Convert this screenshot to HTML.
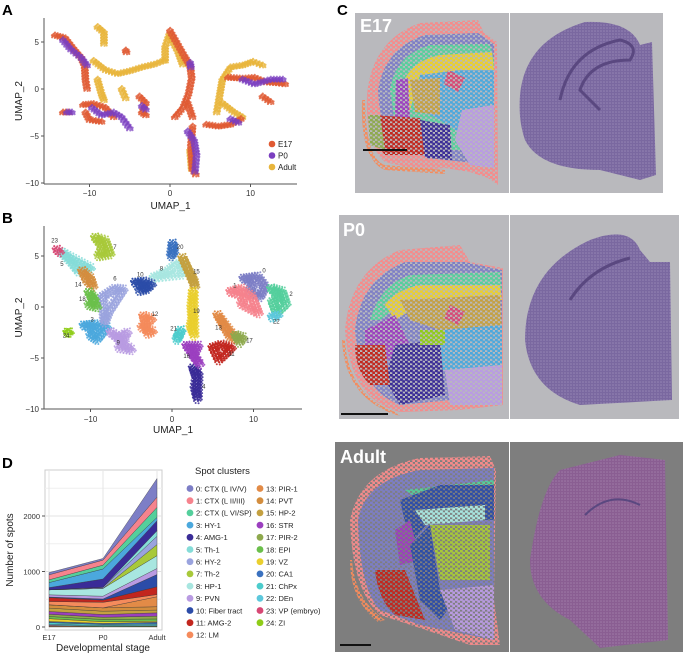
<!DOCTYPE html>
<html><head><meta charset="utf-8">
<style>
html,body{margin:0;padding:0;background:#fff;}
svg{display:block;font-family:"Liberation Sans",Arial,sans-serif;}
</style></head>
<body>
<svg id="fig" width="685" height="655" viewBox="0 0 685 655" xmlns="http://www.w3.org/2000/svg">
<defs>
  <pattern id="dotpat" width="5" height="4.4" patternUnits="userSpaceOnUse">
    <circle cx="1.3" cy="1.1" r="1.6" fill="#fff"/>
    <circle cx="3.8" cy="3.3" r="1.6" fill="#fff"/>
  </pattern>
  <mask id="dotmask" maskUnits="userSpaceOnUse" x="0" y="0" width="685" height="655">
    <rect x="0" y="0" width="685" height="655" fill="url(#dotpat)"/>
  </mask>
  <pattern id="tissue" width="3" height="3" patternUnits="userSpaceOnUse">
    <rect width="3" height="3" fill="#7a68a0"/>
    <circle cx="1" cy="1" r="0.8" fill="#9586b4"/>
  </pattern>
  <pattern id="tissueA" width="3" height="3" patternUnits="userSpaceOnUse">
    <rect width="3" height="3" fill="#8a5e92"/>
    <circle cx="1" cy="1" r="0.8" fill="#a07aa8"/>
  </pattern>
</defs>

<text x="2" y="15" font-size="15" font-weight="bold">A</text>
<text x="2" y="223" font-size="15" font-weight="bold">B</text>
<text x="337" y="15" font-size="15" font-weight="bold">C</text>
<text x="2" y="468" font-size="15" font-weight="bold">D</text>

<g id="panelA"></g>
<g id="panelB"></g>
<g id="panelD"></g>

<g id="panelC">
  <rect x="355" y="13" width="154" height="180" fill="#b9b9bd"/>
  <rect x="510" y="13" width="153" height="180" fill="#b9b9bd"/>
  <g mask="url(#dotmask)">
    <path d="M367,95 Q372,40 420,23 L478,20 L484,33 L497,42 L498,185 L488,178 L470,172 L445,168 L420,170 L385,162 Q365,145 367,95Z" fill="#f58b8b"/>
    <path d="M378,90 Q385,48 425,35 L478,33 L494,44 L494,165 L445,160 L395,150 Q380,130 378,90Z" fill="#7d7ec6"/>
    <path d="M390,90 Q395,55 430,45 L490,44 L494,60 L494,150 L420,150 L396,130Z" fill="#54cf9c"/>
    <path d="M400,95 Q405,62 440,55 L492,52 L494,70 L420,75 L410,110 L400,110Z" fill="#eacf2e"/>
    <path d="M420,75 L460,70 L494,70 L494,135 L470,140 L440,120 L420,110Z" fill="#4ba8dd"/>
    <path d="M410,80 L440,78 L440,115 L415,112Z" fill="#c4a040"/>
    <path d="M448,70 L465,78 L458,92 L444,84Z" fill="#d74874"/>
    <path d="M396,80 L408,78 L410,120 L395,118Z" fill="#9b3fbf"/>
    <path d="M462,110 L494,105 L494,168 L470,165 L455,140Z" fill="#b99be2"/>
    <path d="M372,115 L420,118 L428,155 L385,155 Q372,140 372,115Z" fill="#c2261e"/>
    <path d="M420,120 L450,125 L452,160 L425,158Z" fill="#3a2c97"/>
    <path d="M368,115 L380,115 L385,150 L370,145Z" fill="#8ea94d"/>
    <path d="M365,100 Q366,160 385,165 L445,170 L445,174 L385,170 Q360,160 362,100Z" fill="#f58b5c"/>
  </g>
  <path d="M520,95 Q525,40 585,22 Q630,20 640,45 L652,42 L656,175 L640,180 L600,170 Q540,170 525,140 Q518,120 520,95Z" fill="url(#tissue)"/>
  <path d="M560,100 Q570,50 620,40 Q640,45 630,60 Q590,60 580,90 L600,110" fill="none" stroke="#5a4880" stroke-width="3"/>
  <line x1="363" y1="150" x2="407" y2="150" stroke="#111" stroke-width="2"/>
  <text x="360" y="32" font-size="18" font-weight="bold" fill="#fff">E17</text>

  <rect x="339" y="215" width="170" height="204" fill="#b9b9bd"/>
  <rect x="510" y="215" width="169" height="204" fill="#b9b9bd"/>
  <g mask="url(#dotmask)">
    <path d="M345,330 Q350,270 400,250 L460,245 L470,262 L503,268 L503,405 L460,410 L400,412 Q350,400 345,330Z" fill="#f58b8b"/>
    <path d="M355,330 Q360,280 405,262 L465,262 L502,270 L502,395 L400,405 Q360,390 355,330Z" fill="#7d7ec6"/>
    <path d="M370,320 Q380,285 410,275 L500,272 L502,290 L420,290 L380,320Z" fill="#54cf9c"/>
    <path d="M385,305 Q395,290 420,285 L500,285 L502,300 L420,305 L395,320Z" fill="#eacf2e"/>
    <path d="M400,300 L500,295 L502,330 L440,330 L410,320Z" fill="#c4a040"/>
    <path d="M440,330 L502,325 L502,375 L440,370Z" fill="#4ba8dd"/>
    <path d="M450,305 L465,312 L458,325 L444,318Z" fill="#d74874"/>
    <path d="M365,330 L395,315 L410,345 L390,360 L365,350Z" fill="#9b3fbf"/>
    <path d="M395,345 L440,340 L445,395 L400,405 L385,380Z" fill="#3a2c97"/>
    <path d="M355,345 L385,345 L390,385 L370,385 Q355,370 355,345Z" fill="#c2261e"/>
    <path d="M445,370 L502,365 L502,405 L450,405Z" fill="#b99be2"/>
    <path d="M420,330 L445,330 L445,345 L420,345Z" fill="#8fcc18"/>
    <path d="M345,340 Q348,395 395,412 L400,416 Q345,400 342,340Z" fill="#f58b5c"/>
  </g>
  <path d="M525,340 Q525,270 590,240 Q630,225 640,250 L650,262 L670,262 L672,400 L580,405 Q530,390 525,340Z" fill="url(#tissue)"/>
  <path d="M570,300 Q590,268 630,258" fill="none" stroke="#5a4880" stroke-width="3"/>
  <line x1="341" y1="414" x2="388" y2="414" stroke="#111" stroke-width="2"/>
  <text x="343" y="236" font-size="18" font-weight="bold" fill="#fff">P0</text>

  <rect x="335" y="442" width="174" height="210" fill="#7e7e7e"/>
  <rect x="510" y="442" width="173" height="210" fill="#7e7e7e"/>
  <g mask="url(#dotmask)">
    <path d="M350,520 Q360,470 420,458 L490,456 L496,470 L494,600 L500,645 L470,645 L420,628 L380,615 Q352,590 350,520Z" fill="#f58b8b"/>
    <path d="M358,520 Q365,480 420,470 L494,468 L494,640 L420,625 L380,610 Q360,590 358,520Z" fill="#7d7ec6"/>
    <path d="M405,490 L494,480 L494,500 L420,500Z" fill="#54cf9c"/>
    <path d="M400,500 L440,485 L494,485 L494,520 L430,520 L410,545Z" fill="#2c4ca8"/>
    <path d="M415,510 L485,505 L485,520 L425,525Z" fill="#a8e6e0"/>
    <path d="M430,525 L490,525 L490,580 L440,580Z" fill="#a8c93a"/>
    <path d="M395,530 L410,520 L420,560 L400,565Z" fill="#9b3fbf"/>
    <path d="M410,545 L430,525 L440,590 L455,600 L440,620 L420,600Z" fill="#2c4ca8"/>
    <path d="M440,590 L494,585 L494,640 L455,630Z" fill="#b99be2"/>
    <path d="M375,570 L405,570 L425,620 L395,615 Q378,600 375,570Z" fill="#c2261e"/>
    <path d="M352,560 Q355,600 385,620 L378,622 Q350,600 350,560Z" fill="#f58b5c"/>
  </g>
  <path d="M530,560 Q540,490 560,470 L620,455 L665,460 L668,640 L600,648 L570,620 Q530,600 530,560Z" fill="url(#tissueA)"/>
  <path d="M585,515 Q610,490 640,505" fill="none" stroke="#5a4880" stroke-width="2"/>
  <line x1="340" y1="645" x2="371" y2="645" stroke="#111" stroke-width="2"/>
  <text x="340" y="463" font-size="18" font-weight="bold" fill="#fff">Adult</text>
</g>
</svg>

<script>
// ---------- DATA ----------
const clusterColors = ["#7d7ec6","#f6838d","#54cf9c","#4ba8dd","#3a2c97","#85dcd8","#9aa3de","#a8c93a","#a8e6e0","#b99be2","#2c4ca8","#c2261e","#f58b5c","#e28b47","#d38d3e","#c4a040","#9b3fbf","#8ea94d","#6bbf4b","#eacf2e","#3a71bf","#4ccccc","#5dc8dc","#d74874","#8fcc18"];
const clusterNames = ["0: CTX (L IV/V)","1: CTX (L II/III)","2: CTX (L VI/SP)","3: HY-1","4: AMG-1","5: Th-1","6: HY-2","7: Th-2","8: HP-1","9: PVN","10: Fiber tract","11: AMG-2","12: LM","13: PIR-1","14: PVT","15: HP-2","16: STR","17: PIR-2","18: EPI","19: VZ","20: CA1","21: ChPx","22: DEn","23: VP (embryo)","24: ZI"];
const stages = ["E17","P0","Adult"];
const countsE17   = [40,90,50,90,40,0,0,0,90,40,10,70,60,0,60,60,50,40,40,50,20,30,20,20,10];
const countsP0    = [30,90,70,180,150,0,20,0,140,50,20,40,100,0,60,60,50,40,40,30,20,20,15,0,10];
const countsAdult = [335,185,180,60,180,100,150,200,230,110,220,140,40,180,60,50,60,50,40,20,30,20,20,5,10];
const yTicksD = [0,1000,2000];

const umapB = {
  0:[[8.8,2.8],[10.5,3],[11.4,2],[10.8,1],[9.5,1.5],[10,2.2]],
  1:[[7.2,1.5],[8.5,1.8],[9.8,1],[10.6,-0.6],[8.5,0.3],[9,1]],
  2:[[12.2,1.8],[13.5,1.5],[14,0.3],[12.8,-0.6],[12.3,0.5],[13.2,0.8]],
  3:[[-10.8,-1.8],[-9.5,-1.7],[-8,-2],[-9.2,-3.2],[-10,-2.8],[-9.3,-2.3]],
  4:[[2.6,-6],[3,-7],[2.8,-8],[3.1,-9],[3.2,-6.5]],
  5:[[-13.5,5.3],[-12.5,4.5],[-11.5,3.5],[-10,3.8]],
  6:[[-8.5,1],[-7,1.8],[-6,1.7],[-7.8,-0.5],[-8.3,-1.5]],
  7:[[-9.4,6.8],[-8.2,6.5],[-7.6,5.2],[-9,5],[-8.5,5.8]],
  8:[[-2.2,2.9],[-0.5,3.5],[0.5,4.2],[1.3,4.3],[1.2,3.2]],
  9:[[-7.5,-2.5],[-6.5,-3],[-5.5,-2.5],[-6.5,-4],[-5,-4.2]],
  10:[[-4.5,2.4],[-3.5,2.5],[-2.5,2.2],[-4,1.6],[-3,1.8]],
  11:[[5,-4],[6,-3.7],[7.3,-4],[6.3,-4.8],[5.7,-5.2]],
  12:[[-3.5,-0.9],[-2.5,-1.2],[-3.7,-2],[-2.4,-2.4],[-3,-2.6]],
  13:[[5.6,-0.8],[6.3,-1.8],[7,-2.8],[7.8,-3.1]],
  14:[[-11,3.5],[-10.5,2.6],[-9.7,2],[-10,2.8]],
  15:[[1.3,4.8],[2,3.6],[2.6,2.8],[2.8,2]],
  16:[[1.8,-3.8],[3.2,-3.8],[2.6,-4.8],[3.4,-5.6]],
  17:[[7.8,-2.8],[8.7,-3],[8.3,-3.5]],
  18:[[-10.2,1.4],[-9.5,0.8],[-10.2,0.2],[-9.2,0]],
  19:[[2.6,1.5],[2.4,0],[2.5,-1.2],[2.3,-2],[2.7,-2.8]],
  20:[[0.1,6.2],[0.2,5.4],[-0.1,5]],
  21:[[1.1,-2.3],[0.8,-2.8],[0.6,-3.2]],
  22:[[12.3,-1],[13,-0.8]],
  23:[[-14.1,5.6],[-13.8,5.4]],
  24:[[-12.8,-2.5],[-12.6,-2.5]]
};
const labelB = {0:[11.3,3.4],1:[7.7,1.9],2:[14.6,1.1],3:[-9.8,-1.4],4:[3.9,-8],5:[-13.5,4],6:[-7,2.6],7:[-7,5.7],8:[-1.3,3.6],9:[-6.6,-3.7],10:[-3.9,3],11:[7.3,-4.8],12:[-2.1,-0.9],13:[5.7,-2.2],14:[-11.5,2],15:[3,3.3],16:[1.8,-5],17:[9.5,-3.5],18:[-11,0.6],19:[3,-0.6],20:[1,5.7],21:[0.2,-2.3],22:[12.8,-1.6],23:[-14.4,6.3],24:[-13,-3]};

// Panel A: each stage is a list of separate strands (polylines in UMAP coords)
const umapAdult = [
  [[-9,6.6],[-8.2,6],[-8.2,4.8]],
  [[-9.5,3],[-8,2],[-6.5,1.6],[-5,1.9],[-3.5,2.3],[-2,2.6],[-0.8,3]],
  [[-0.6,3],[-0.6,4.5],[-0.1,5.8],[1,4],[1.6,2.6]],
  [[5.8,-2.5],[6.2,-0.5],[6.5,1],[7.5,2.3],[9,2.5],[10.3,2.9],[11.5,2.5]],
  [[6.5,-1.5],[8,-2.5],[9,-3]],
  [[-9,1],[-8.5,-0.5],[-8.2,-1.2]],
  [[-6,0],[-5.5,-1]],
  [[2.5,-6.5],[2.7,-8.5]]
];
const umapE17 = [
  [[-14.3,5.7],[-13,5.4],[-12,4.3],[-11,3.3],[-10.6,2.5],[-10.5,1],[-10.3,0]],
  [[-10.8,-1.7],[-9.5,-1.6],[-8,-2],[-7,-3]],
  [[-10.5,-2.5],[-10,-3.3],[-8.5,-3.5]],
  [[-13.3,-2.5],[-12.6,-2.5]],
  [[-3.8,-0.8],[-3,-1.5],[-3.5,-2.5],[-3,-2.8]],
  [[0,6.2],[0.8,5],[1.8,3.5],[2.5,2.5],[2.7,1.2],[2.3,-0.5],[1.6,-2],[0.6,-3]],
  [[2.2,-1.5],[2.8,-3]],
  [[2.8,-4],[2.6,-6],[2.8,-8.5],[3.2,-9.1]],
  [[4.5,-3.8],[6,-4],[7.5,-3.8],[8.8,-3.2]],
  [[7.2,1.2],[9,1.1],[10.5,1.2],[12,0.7],[13.5,0.6],[14.3,0.5]],
  [[11.5,-0.8],[12.5,-1.4]],
  [[-5.5,4.1],[-5.4,3.9]]
];
const umapP0 = [
  [[-13.3,5.2],[-12.3,4.2],[-11,3.3],[-10.3,2.5]],
  [[-9.7,-2],[-8.5,-2.8],[-7,-2.5],[-6,-3],[-5,-4.2]],
  [[-12.8,-2.5],[-12.2,-2.5]],
  [[-3.5,-1.8],[-3,-2.2]],
  [[2.2,-4.5],[3,-5.5],[3.3,-7],[3.1,-8.8]],
  [[7.5,-3.2],[8.5,-3.6]],
  [[9,1],[10.5,0.5],[12.5,1],[14,1]],
  [[2.5,2.8],[2.6,2.3]]
];

// ---------- HELPERS ----------
const NS = "http://www.w3.org/2000/svg";
function mk(tag, attrs, parent){ const e=document.createElementNS(NS,tag); for(const k in attrs) e.setAttribute(k,attrs[k]); if(parent) parent.appendChild(e); return e; }
const offs=[[0,0],[2.2,0.4],[-2,0.8],[0.6,2.1],[-0.8,-2],[1.8,-1.6],[-1.9,-1.2],[3,1.8],[-3,2],[0.2,-3.2],[3.2,-0.8],[-3.3,-0.2],[4.2,0.6],[-4,-1.4],[1.2,4],[-1.5,3.8],[2.5,-3.8],[-2.6,-3.4]];

function axesUMAP(g, sx, sy, x0px, x1px, ytop, ybot, xlabY, xTickY){
  const ax=mk("line",{x1:x0px,y1:ytop,x2:x0px,y2:ybot,stroke:"#555","stroke-width":1},g);
  
  
  const bx=mk("line",{x1:x0px,y1:ybot,x2:x1px,y2:ybot,stroke:"#555","stroke-width":1},g);
  
  
  [-10,0,10].forEach(v=>{
    mk("line",{x1:sx(v),y1:ybot,x2:sx(v),y2:ybot+3,stroke:"#555"},g);
    const t=mk("text",{x:sx(v),y:xTickY,"font-size":8,"text-anchor":"middle",fill:"#333"},g); t.textContent=v===-10?"\u221210":v;
    
    
  });
  [5,0,-5,-10].forEach(v=>{
    mk("line",{x1:x0px-3,y1:sy(v),x2:x0px,y2:sy(v),stroke:"#555"},g);
    const t=mk("text",{x:x0px-5,y:sy(v)+3,"font-size":8,"text-anchor":"end",fill:"#333"},g); t.textContent=v<0?"\u2212"+(-v):v;
    
    
  });
  const xl=mk("text",{x:(x0px+x1px)/2,y:xlabY,"font-size":10,"text-anchor":"middle",fill:"#222"},g); xl.textContent="UMAP_1";
  
  
  const cy=(ytop+ybot)/2;
  const yl=mk("text",{x:22,y:cy,"font-size":10,"text-anchor":"middle",fill:"#222",transform:"rotate(-90 22 "+cy+")"},g); yl.textContent="UMAP_2";
  
  
}
function drawSkeleton(g, pts, sx, sy, color, r, op, nOff, spread){
  const oo=offs.slice(0,nOff);
  for(let i=0;i<pts.length;i++){
    const a=pts[i], b=pts[Math.min(i+1,pts.length-1)];
    const ax=sx(a[0]), ay=sy(a[1]), bx=sx(b[0]), by=sy(b[1]);
    const d=Math.hypot(bx-ax,by-ay), n=Math.max(1,Math.ceil(d/3.5));
    for(let k=0;k<n;k++){
      const px=ax+(bx-ax)*k/n, py=ay+(by-ay)*k/n;
      oo.forEach(o=>{ mk("circle",{cx:px+o[0]*spread,cy:py+o[1]*spread,r:r,fill:color,"fill-opacity":op},g); });
    }
  }
}

// ---------- PANEL A ----------
(function(){
  const g=document.getElementById("panelA");
  const sx=v=>170+v*8.05, sy=v=>89-v*9.4;
  axesUMAP(g,sx,sy,44,297,18,184,209,196);
  const series=[[umapAdult,"#e8b53c"],[umapE17,"#e05a33"],[umapP0,"#7b3fc0"]];
  const names=["adult-points","e17-points","p0-points"];
  series.forEach((s,i)=>{
    const sg=mk("g",{},g);
    
    
    s[0].forEach(strand=>drawSkeleton(sg,strand,sx,sy,s[1],1.1,i===2?0.7:0.8,12,0.9));
  });
  const lab=["E17","P0","Adult"], col=["#e05a33","#7b3fc0","#e8b53c"];
  lab.forEach((l,i)=>{
    const y=144+i*11.5;
    const c=mk("circle",{cx:272,cy:y,r:3.3,fill:col[i]},g);
    
    
    const t=mk("text",{x:278,y:y+3,"font-size":8,fill:"#222"},g); t.textContent=l;
    
    
  });
})();

// ---------- PANEL B ----------
(function(){
  const g=document.getElementById("panelB");
  const sx=v=>172+v*8.15, sy=v=>307-v*10.2;
  axesUMAP(g,sx,sy,44,302,226,409,433,422);
  Object.keys(umapB).forEach(k=>{
    const sg=mk("g",{},g);
    
    
    const pts=umapB[k].concat([umapB[k][0]]);
    drawSkeleton(sg,pts,sx,sy,clusterColors[k],1,0.85,18,1.1);
    const p=labelB[k];
    const t=mk("text",{x:sx(p[0]),y:sy(p[1]),"font-size":6,"text-anchor":"middle",fill:"#333"},g); t.textContent=k;
    
    
  });
})();

// ---------- PANEL D ----------
(function(){
  const g=document.getElementById("panelD");
  const L=45,R=162,T=470,B=630;
  const xPos=i=>49+i*54;
  const y=v=>627-v*0.0555;
  const bg=mk("rect",{x:L,y:T,width:R-L,height:B-T,fill:"#fff",stroke:"#ccc"},g);
  
  
  [500,1000,1500,2000,2500].forEach(v=>{ mk("line",{x1:L,x2:R,y1:y(v),y2:y(v),stroke:v%1000===0?"#e3e3e3":"#efefef"},g); });
  stages.forEach((s,i)=>{ mk("line",{x1:xPos(i),x2:xPos(i),y1:T,y2:B,stroke:"#e6e6e6"},g); });
  const data=[countsE17,countsP0,countsAdult];
  const base=[0,0,0];
  for(let k=24;k>=0;k--){
    const lo=base.slice();
    const hi=base.map((b,i)=>b+data[i][k]);
    let d="M"+stages.map((s,i)=>xPos(i)+","+y(hi[i])).join(" L");
    for(let i=2;i>=0;i--) d+=" L"+xPos(i)+","+y(lo[i]);
    d+="Z";
    const p=mk("path",{d:d,fill:clusterColors[k],stroke:"#333","stroke-width":0.35},g);
    
    
    for(let i=0;i<3;i++) base[i]=hi[i];
  }
  yTicksD.forEach(v=>{
    mk("line",{x1:L-3,x2:L,y1:y(v),y2:y(v),stroke:"#555"},g);
    const t=mk("text",{x:L-5,y:y(v)+3,"font-size":7.5,"text-anchor":"end",fill:"#333"},g); t.textContent=v;
    
    
  });
  stages.forEach((s,i)=>{
    const t=mk("text",{x:xPos(i),y:640,"font-size":7.5,"text-anchor":"middle",fill:"#333"},g); t.textContent=s;
    
    
  });
  const xl=mk("text",{x:103,y:651,"font-size":10,"text-anchor":"middle",fill:"#222"},g); xl.textContent="Developmental stage";
  
  
  const yl=mk("text",{x:13,y:550,"font-size":10,"text-anchor":"middle",fill:"#222",transform:"rotate(-90 13 550)"},g); yl.textContent="Number of spots";
  
  
  const lt=mk("text",{x:195,y:474,"font-size":9.5,fill:"#222"},g); lt.textContent="Spot clusters";
  
  
  clusterNames.forEach((n,k)=>{
    const col=k<13?0:1, row=k<13?k:k-13;
    const cx=col===0?190:260, cy=488.5+row*12.2;
    const c=mk("circle",{cx:cx,cy:cy,r:3.4,fill:clusterColors[k]},g);
    
    
    const t=mk("text",{x:cx+6,y:cy+2.8,"font-size":7.5,fill:"#222"},g); t.textContent=n;
    
    
  });
})();
</script>
</body></html>
